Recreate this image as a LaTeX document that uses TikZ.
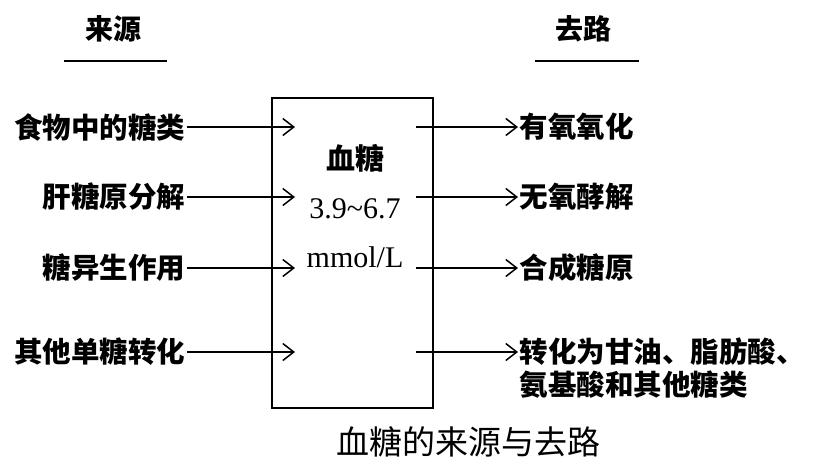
\documentclass[tikz,border=0pt]{standalone}
\usepackage{fontspec}
\setmainfont{Liberation Serif}
\newfontfamily\cjk{Noto Sans CJK SC}
\usetikzlibrary{arrows.meta}

\begin{document}
\begin{tikzpicture}[x=1pt,y=-1pt,
  lab/.style={font=\cjk\bfseries\fontsize{28.5}{33}\selectfont, inner sep=1.5pt},
  ttl/.style={font=\cjk\bfseries\fontsize{28}{32}\selectfont, inner sep=0pt},
  arr/.style={line width=1.5pt, -{Straight Barb[length=11pt,width=17pt,line width=1.5pt]}}]
\useasboundingbox (0,0) rectangle (824,469);

% headings
\node[ttl] (src) at (113,29) {来源};
\node[ttl] (dst) at (583,29) {去路};
\draw[line width=1.3pt] (64,61) -- (167,61);
\draw[line width=1.3pt] (535,61) -- (639,61);

% blood glucose box
\node[draw, line width=1.5pt, minimum width=161pt, minimum height=310pt, inner sep=0pt] (glu) at (352.5,253) {};
\node[align=center, font=\fontsize{30}{49}\selectfont] (gtxt) at (355,206) {{\cjk\bfseries\fontsize{29}{49}\selectfont 血糖}\\3.9\textasciitilde 6.7\\mmol/L};

% sources
\node[lab, anchor=east] (s1) at (187,127) {食物中的糖类};
\node[lab, anchor=east] (s2) at (187,197) {肝糖原分解};
\node[lab, anchor=east] (s3) at (187,268) {糖异生作用};
\node[lab, anchor=east] (s4) at (187,352) {其他单糖转化};
\coordinate (i1) at (295,127);
\coordinate (i2) at (295,197);
\coordinate (i3) at (295,268);
\coordinate (i4) at (295,352);
\draw[arr] (s1) -- (i1);
\draw[arr] (s2) -- (i2);
\draw[arr] (s3) -- (i3);
\draw[arr] (s4) -- (i4);

% ways out
\coordinate (o1) at (416,127);
\coordinate (o2) at (416,197);
\coordinate (o3) at (416,268);
\coordinate (o4) at (416,352);
\node[lab, anchor=west] (t1) at (518,127) {有氧氧化};
\node[lab, anchor=west] (t2) at (518,197) {无氧酵解};
\node[lab, anchor=west] (t3) at (518,268) {合成糖原};
\node[lab, anchor=west, align=left] (t4) at (518,368.5) {转化为甘油、脂肪酸、\\氨基酸和其他糖类};
\draw[arr] (o1) -- (t1);
\draw[arr] (o2) -- (t2);
\draw[arr] (o3) -- (t3);
\draw[arr] (o4) -- (o4 -| t4.west);

% caption
\node[font=\cjk\fontsize{33}{38}\selectfont] (cap) at (468,442) {血糖的来源与去路};
\end{tikzpicture}
\end{document}
